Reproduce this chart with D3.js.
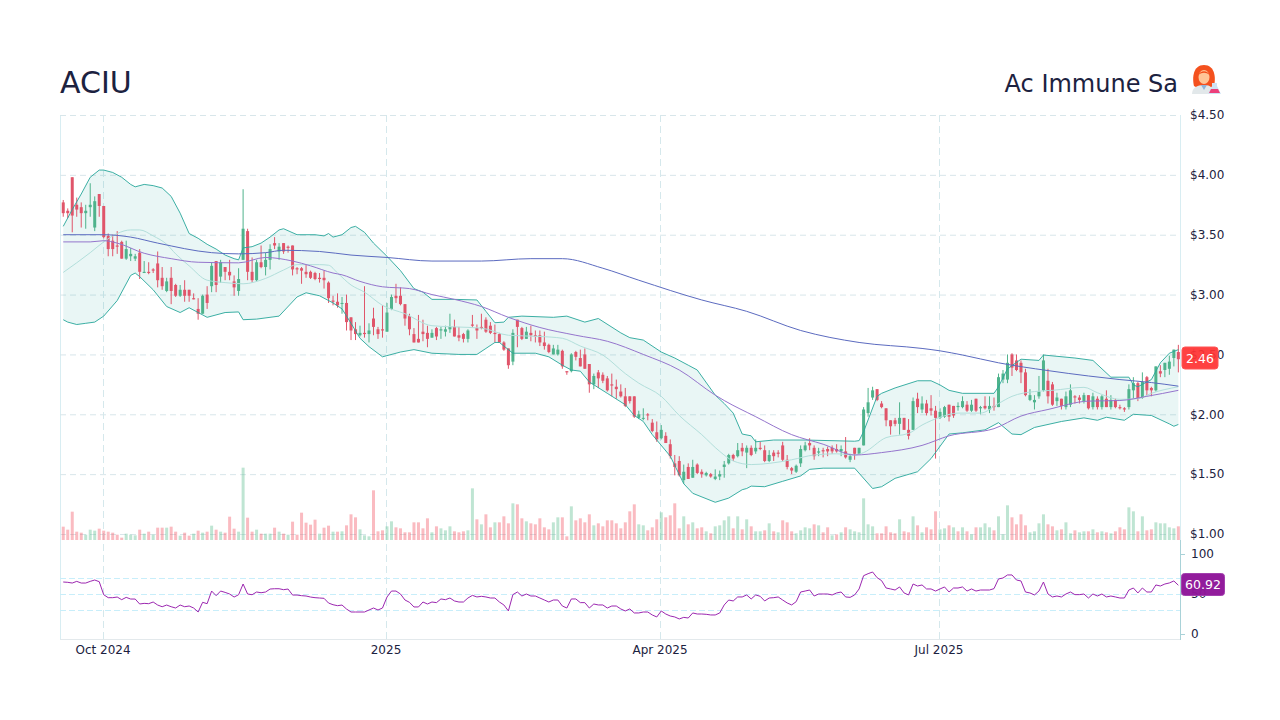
<!DOCTYPE html>
<html>
	<head>
		<title>ACIU</title>
		<meta charset="utf-8">
		<script type="text/javascript" src="https://d3js.org/d3.v7.min.js"></script>
		<style type="text/css">
			html, body{
				margin: 0;
				padding: 0;
				background: #fff;
			}
			svg{
				display: block;
			}
			text{
				font-family: "DejaVu Sans", sans-serif;
				fill: #1c2240;
			}
		</style>
	</head>

	<body>
		<script type="text/javascript">

		var ticker = 'ACIU';
		var company = 'Ac Immune Sa';

		var opens = [
			3.77,3.70,3.98,3.75,3.73,3.68,3.73,3.56,3.84,3.74,
			3.49,3.45,3.41,3.44,3.30,3.32,3.30,3.35,3.18,3.19,
			3.21,3.26,3.14,3.03,3.14,3.08,2.99,3.04,3.04,2.97,
			2.88,2.84,3.00,3.07,3.28,3.15,3.23,3.19,3.11,3.03,
			3.29,3.53,3.19,3.12,3.27,3.23,3.29,3.43,3.36,3.43,
			3.40,3.41,3.22,3.22,3.19,3.19,3.18,3.14,3.14,3.10,
			2.95,2.94,2.93,2.93,2.81,2.71,2.66,2.68,2.67,2.80,
			2.71,2.71,2.69,2.88,2.99,2.99,2.92,2.82,2.67,2.63,
			2.69,2.68,2.64,2.72,2.70,2.69,2.71,2.73,2.66,2.67,
			2.63,2.75,2.72,2.73,2.79,2.74,2.68,2.67,2.60,2.55,
			2.44,2.79,2.72,2.63,2.68,2.66,2.66,2.60,2.58,2.50,
			2.50,2.53,2.36,2.36,2.52,2.47,2.50,2.42,2.25,2.35,
			2.33,2.30,2.25,2.23,2.19,2.15,2.15,2.15,1.97,1.97,
			2.00,1.93,1.85,1.80,1.82,1.75,1.59,1.61,1.45,1.56,
			1.47,1.58,1.52,1.49,1.50,1.46,1.48,1.56,1.59,1.66,
			1.65,1.72,1.68,1.72,1.69,1.72,1.70,1.61,1.68,1.68,
			1.74,1.62,1.55,1.52,1.59,1.70,1.76,1.72,1.68,1.70,
			1.71,1.72,1.71,1.69,1.69,1.62,1.72,1.67,1.74,2.01,
			2.14,2.21,2.09,2.05,1.95,1.95,1.92,1.97,1.87,1.87,
			2.13,2.04,2.09,2.05,2.03,1.97,1.98,2.08,2.07,2.06,
			2.06,2.08,2.03,2.13,2.05,2.07,2.04,2.07,2.06,2.29,
			2.29,2.50,2.45,2.43,2.35,2.12,2.10,2.15,2.20,2.28,
			2.25,2.11,2.13,2.06,2.08,2.15,2.14,2.11,2.16,2.06,
			2.13,2.06,2.13,2.06,2.12,2.06,2.05,2.06,2.20,2.26,
			2.14,2.31,2.22,2.20,2.36,2.37,2.38,2.47,2.52
		];
		var highs = [
			3.79,3.72,3.98,3.81,3.77,3.75,3.93,3.82,3.84,3.74,
			3.51,3.50,3.53,3.45,3.45,3.39,3.34,3.38,3.28,3.27,
			3.22,3.36,3.23,3.14,3.23,3.09,3.08,3.12,3.04,3.01,
			2.97,3.00,3.07,3.27,3.28,3.29,3.23,3.29,3.16,3.22,
			3.88,3.55,3.31,3.29,3.41,3.35,3.42,3.48,3.43,3.43,
			3.41,3.41,3.23,3.23,3.25,3.20,3.19,3.18,3.20,3.11,
			2.99,3.01,2.98,3.00,2.81,2.77,2.74,3.07,2.76,2.89,
			2.73,2.91,2.93,3.00,3.09,3.06,2.92,2.84,2.72,2.83,
			2.79,2.74,2.71,2.73,2.73,2.74,2.84,2.79,2.73,2.68,
			2.71,2.83,2.75,2.84,2.81,2.77,2.75,2.68,2.61,2.55,
			2.71,2.79,2.73,2.73,2.74,2.70,2.70,2.69,2.59,2.58,
			2.58,2.54,2.36,2.51,2.53,2.54,2.55,2.42,2.34,2.37,
			2.35,2.32,2.34,2.29,2.25,2.22,2.15,2.15,2.03,2.05,
			2.01,1.96,1.94,1.91,1.85,1.79,1.66,1.65,1.58,1.59,
			1.62,1.59,1.54,1.52,1.51,1.54,1.53,1.61,1.67,1.67,
			1.76,1.76,1.74,1.74,1.79,1.77,1.74,1.70,1.70,1.70,
			1.77,1.66,1.56,1.58,1.74,1.77,1.80,1.74,1.72,1.72,
			1.73,1.74,1.75,1.74,1.81,1.67,1.72,1.72,2.06,2.22,
			2.23,2.21,2.11,2.05,1.95,1.97,2.10,1.97,1.96,2.14,
			2.18,2.15,2.12,2.16,2.07,2.05,2.07,2.08,2.07,2.10,
			2.15,2.11,2.12,2.13,2.07,2.15,2.15,2.14,2.34,2.37,
			2.50,2.51,2.50,2.45,2.38,2.21,2.16,2.32,2.50,2.38,
			2.27,2.18,2.13,2.19,2.25,2.16,2.16,2.18,2.16,2.18,
			2.15,2.16,2.20,2.16,2.13,2.08,2.06,2.25,2.31,2.27,
			2.35,2.32,2.23,2.40,2.41,2.43,2.49,2.54,2.58
		];
		var lows = [
			3.65,3.64,3.52,3.65,3.56,3.55,3.65,3.53,3.65,3.47,
			3.32,3.32,3.34,3.30,3.29,3.28,3.28,3.13,3.18,3.17,
			3.18,3.06,3.04,3.02,2.92,2.98,2.98,2.94,2.94,2.96,
			2.79,2.84,2.88,3.02,3.02,3.10,3.12,3.12,2.99,2.99,
			3.29,3.12,3.10,3.11,3.22,3.16,3.21,3.38,3.29,3.34,
			3.35,3.16,3.17,3.09,3.14,3.13,3.12,3.10,3.05,2.93,
			2.91,2.89,2.84,2.70,2.62,2.62,2.65,2.64,2.60,2.66,
			2.63,2.64,2.69,2.87,2.93,2.91,2.74,2.66,2.60,2.60,
			2.61,2.56,2.64,2.62,2.63,2.65,2.68,2.65,2.61,2.60,
			2.60,2.73,2.63,2.71,2.68,2.67,2.60,2.60,2.53,2.38,
			2.41,2.56,2.62,2.63,2.61,2.60,2.57,2.54,2.51,2.50,
			2.49,2.38,2.33,2.35,2.45,2.40,2.38,2.18,2.21,2.22,
			2.26,2.19,2.15,2.13,2.14,2.06,2.09,1.97,1.96,1.95,
			1.95,1.85,1.77,1.79,1.76,1.63,1.49,1.48,1.42,1.46,
			1.47,1.50,1.47,1.48,1.47,1.45,1.45,1.47,1.58,1.61,
			1.64,1.65,1.55,1.65,1.67,1.70,1.60,1.60,1.61,1.64,
			1.61,1.54,1.50,1.51,1.56,1.69,1.70,1.62,1.65,1.64,
			1.65,1.67,1.68,1.65,1.63,1.60,1.62,1.67,1.74,1.98,
			2.12,2.11,2.05,1.90,1.83,1.90,1.83,1.87,1.79,1.87,
			2.01,2.01,1.99,1.99,1.63,1.96,1.97,1.94,1.97,2.03,
			2.05,2.02,2.02,2.02,2.00,2.04,2.01,2.03,2.06,2.26,
			2.26,2.32,2.36,2.26,2.15,2.11,2.04,2.13,2.19,2.09,
			2.07,2.07,2.04,2.04,2.06,2.09,2.09,2.09,2.04,2.04,
			2.04,2.04,2.06,2.04,2.05,2.04,2.02,2.04,2.13,2.11,
			2.13,2.16,2.15,2.19,2.31,2.31,2.33,2.40,2.35
		];
		var closes = [
			3.68,3.68,3.66,3.71,3.68,3.70,3.75,3.78,3.74,3.48,
			3.38,3.38,3.40,3.30,3.38,3.34,3.32,3.19,3.19,3.18,
			3.20,3.12,3.07,3.11,3.03,2.99,3.04,2.99,2.99,2.96,
			2.84,2.99,2.93,3.24,3.08,3.27,3.19,3.16,3.06,3.13,
			3.55,3.19,3.12,3.27,3.23,3.29,3.38,3.41,3.40,3.36,
			3.39,3.21,3.21,3.20,3.17,3.14,3.13,3.13,3.12,2.97,
			2.94,2.91,2.93,2.77,2.70,2.67,2.68,2.67,2.70,2.73,
			2.67,2.70,2.85,2.98,2.97,2.92,2.80,2.71,2.60,2.60,
			2.67,2.63,2.68,2.65,2.71,2.71,2.73,2.65,2.64,2.63,
			2.70,2.74,2.70,2.72,2.69,2.68,2.67,2.60,2.54,2.41,
			2.68,2.73,2.63,2.69,2.66,2.65,2.60,2.57,2.52,2.55,
			2.54,2.40,2.35,2.50,2.48,2.40,2.38,2.25,2.32,2.30,
			2.28,2.20,2.24,2.21,2.15,2.07,2.11,1.98,2.00,1.97,
			1.99,1.86,1.79,1.87,1.76,1.65,1.56,1.49,1.52,1.46,
			1.56,1.51,1.50,1.51,1.48,1.48,1.50,1.58,1.66,1.63,
			1.70,1.69,1.72,1.66,1.72,1.71,1.61,1.66,1.65,1.67,
			1.62,1.56,1.53,1.57,1.71,1.74,1.74,1.65,1.69,1.69,
			1.69,1.69,1.69,1.71,1.64,1.65,1.67,1.72,2.04,2.10,
			2.20,2.12,2.06,1.95,1.90,1.92,1.97,1.87,1.82,2.11,
			2.06,2.09,2.01,2.03,1.97,2.02,2.06,1.98,1.99,2.07,
			2.11,2.03,2.08,2.03,2.06,2.05,2.07,2.06,2.31,2.34,
			2.43,2.39,2.37,2.35,2.16,2.16,2.12,2.19,2.45,2.15,
			2.08,2.14,2.07,2.15,2.20,2.14,2.12,2.16,2.05,2.15,
			2.06,2.15,2.06,2.12,2.06,2.05,2.04,2.21,2.26,2.13,
			2.27,2.20,2.20,2.40,2.34,2.43,2.44,2.54,2.46
		];
		var volumes = [
			40,31,85,25,22,16,31,28,34,28,
			25,22,16,7,19,16,14,31,19,25,
			16,37,37,37,40,25,13,22,13,19,
			28,22,25,43,31,25,22,70,34,25,
			217,67,25,31,19,19,19,37,25,19,
			16,55,16,82,52,46,61,19,37,43,
			25,25,26,44,77,68,32,14,11,149,
			26,29,41,56,38,35,23,23,53,53,
			35,65,23,41,35,29,41,26,23,26,
			29,155,62,47,77,38,53,53,71,50,
			110,107,65,56,50,47,65,38,32,53,
			68,68,11,101,59,65,53,77,44,50,
			41,59,59,50,35,53,86,107,47,44,
			29,38,62,83,68,74,110,35,71,47,
			53,35,38,26,20,41,44,59,71,35,
			71,32,62,41,26,26,29,50,26,23,
			59,53,26,20,29,38,35,47,44,23,
			38,14,17,23,38,32,26,23,125,47,
			41,20,20,41,23,20,62,26,23,71,
			44,23,38,32,86,32,35,44,38,26,
			38,26,17,38,38,50,38,29,71,17,
			104,68,47,77,44,23,26,50,77,47,
			41,29,32,53,20,29,23,26,26,32,
			23,26,23,20,26,38,32,98,86,26,
			71,29,32,53,50,50,38,35,41
		];
		// bars whose volume colour is not the colour of their candle
		var volumeFlip = [20,29,50,57,60,67,91,93,96,155,159,166,171,176,198,199,205,226,244];
		var rsi = [
			65.0,64.6,63.7,65.8,63.7,63.7,65.8,67.5,65.4,49.1,
			45.4,45.4,46.2,42.9,45.8,43.7,43.7,37.5,38.3,37.9,
			40,36.2,34.1,36.2,34.1,32.5,36.2,34.1,35,32.5,
			27.5,39.6,37.9,53.7,47.9,53.7,52,50,46.2,49.1,
			62.5,50,49.1,52.5,51.6,52.5,56.2,56.6,56.6,55.4,
			56.2,48.7,48.7,47.9,47.5,46.2,45.4,45,44.6,38.7,
			36.6,35.4,36.2,31.2,27.5,27.5,27.5,27.5,30,32.5,
			30,32.5,46.2,53.7,53.7,50,42.5,39.6,33.8,33.8,
			40,37.5,40,39.2,43.8,42.9,45,41.3,40,40,
			45,48.3,46.3,47.1,46.3,45,45,40,36.3,28.8,
			49.2,52.5,47.5,50,47.5,47.5,45,42.5,40,42.5,
			42.5,35,32.5,43.8,43.8,39.2,39.2,32.5,37.5,36.3,
			36.3,32.5,35,35,31.3,28.8,31.3,26.3,26.3,27.5,
			27.5,23.8,21.3,28.8,25,22.5,21.3,18.8,20.8,20,
			26.3,25,25,24.6,23.8,23.8,26.3,36.3,42.5,41.3,
			46.3,46.3,48.8,43.8,48.8,47.1,41.3,45,45.4,46.3,
			42.5,38.8,36.3,40.4,52.5,53.7,55,47.5,50,50,
			50,48.8,51.3,52.5,46.3,45.8,48.8,56.3,72.9,75.4,
			77.5,70.4,66.7,57.5,56.3,55,58.8,51.3,48.8,62.5,
			60,61.3,56.3,56.3,53.7,56.3,58.8,52.5,57.5,57.5,
			58.8,53.7,56.3,53.7,55,55,55,56.7,68.8,70,
			73.8,73.8,67.5,66.3,52.5,51.3,48.8,53.7,65,50,
			46.3,47.5,46.3,50,52.5,49.2,49.2,50,45,50,
			47.5,50,46.3,47.5,46.3,45,45,55,57.5,51.3,
			57.5,52.5,52.5,61.3,60,62.5,63.8,66.3,60.92
		];

		// the smooth overlays were read at their visible bends: [bar index, price]
		var bbUpper = [
			[0,3.57],[2,3.71],[4,3.84],[6,3.98],[8,4.04],[9,4.04],[11,4.02],[13,3.98],[15,3.92],[16,3.90],
			[18,3.92],[20,3.91],[22,3.89],[24,3.82],[26,3.68],[28,3.51],[30,3.47],[32,3.42],[34,3.38],[36,3.33],
			[38,3.30],[39,3.29],[40,3.39],[42,3.40],[44,3.43],[46,3.48],[48,3.54],[49,3.55],[52,3.50],[56,3.50],
			[58,3.49],[59,3.51],[60,3.48],[62,3.50],[64,3.56],[65,3.57],[67,3.52],[69,3.43],[72,3.32],[75,3.20],
			[78,3.05],[80,3.02],[82,2.96],[87,2.96],[92,2.955],[94,2.86],[96,2.765],[98,2.77],[99,2.81],[102,2.82],
			[109,2.81],[112,2.82],[116,2.77],[119,2.80],[124,2.68],[126,2.64],[129,2.62],[133,2.52],[136,2.47],[139,2.41],
			[141,2.37],[145,2.16],[147,2.09],[149,2.01],[151,1.835],[153,1.82],[154,1.77],[158,1.785],[165,1.785],[176,1.775],
			[177,1.78],[178,1.855],[181,2.15],[182,2.175],[185,2.22],[190,2.28],[193,2.28],[195,2.245],[197,2.20],[200,2.175],
			[207,2.175],[208,2.23],[210,2.38],[213,2.46],[217,2.45],[218,2.495],[225,2.47],[229,2.45],[233,2.31],[237,2.31],
			[238,2.245],[239,2.23],[242,2.29],[244,2.43],[246,2.51],[248,2.54]
		];
		var bbMiddle = [
			[0,3.185],[6,3.35],[9,3.44],[12,3.51],[15,3.54],[17,3.54],[20,3.49],[23,3.42],[25,3.34],[28,3.24],
			[32,3.12],[36,3.10],[40,3.09],[45,3.135],[49,3.205],[52,3.25],[57,3.25],[59,3.245],[61,3.18],[64,3.08],
			[67,3.02],[71,2.91],[76,2.84],[82,2.74],[87,2.73],[93,2.72],[99,2.66],[106,2.65],[111,2.635],[115,2.57],
			[120,2.495],[125,2.34],[128,2.26],[133,2.15],[137,1.99],[142,1.83],[146,1.69],[149,1.61],[153,1.58],[157,1.59],
			[162,1.62],[167,1.66],[172,1.67],[176,1.66],[178,1.68],[183,1.805],[188,1.84],[191,1.91],[195,1.975],[199,2.01],
			[204,2.01],[208,2.09],[211,2.15],[216,2.19],[220,2.20],[227,2.225],[230,2.18],[235,2.125],[239,2.13],[242,2.175],
			[248,2.23]
		];
		var bbLower = [
			[0,2.79],[1,2.77],[3,2.75],[5,2.76],[7,2.77],[9,2.82],[12,2.95],[15,3.16],[16,3.18],[17,3.15],
			[20,3.04],[23,2.90],[26,2.85],[28,2.89],[32,2.81],[36,2.85],[39,2.855],[40,2.79],[43,2.795],[48,2.82],
			[52,2.98],[54,3.015],[57,2.99],[60,2.93],[62,2.88],[64,2.76],[66,2.635],[68,2.565],[71,2.48],[75,2.52],
			[78,2.54],[82,2.51],[88,2.50],[92,2.50],[94,2.55],[96,2.60],[97,2.60],[100,2.51],[105,2.51],[108,2.48],
			[111,2.41],[113,2.37],[115,2.36],[117,2.27],[121,2.175],[125,2.08],[127,1.99],[129,1.94],[131,1.83],[135,1.65],
			[138,1.42],[140,1.34],[145,1.265],[148,1.30],[151,1.37],[152,1.38],[153,1.40],[156,1.395],[160,1.44],[164,1.485],
			[166,1.54],[169,1.55],[176,1.55],[180,1.38],[182,1.395],[185,1.465],[190,1.52],[193,1.63],[197,1.835],[200,1.845],
			[205,1.87],[208,1.93],[211,1.835],[213,1.83],[216,1.89],[222,1.94],[227,1.97],[230,1.95],[232,1.975],[236,1.95],
			[238,2.00],[242,1.99],[246,1.92],[247,1.90],[248,1.915]
		];
		var smaLong = [
			[0,3.50],[9,3.50],[15,3.48],[21,3.43],[33,3.35],[39,3.34],[45,3.35],[49,3.37],[57,3.36],[64,3.33],
			[72,3.31],[82,3.28],[93,3.28],[104,3.30],[111,3.30],[120,3.22],[128,3.12],[142,2.955],[152,2.86],[164,2.70],
			[177,2.60],[191,2.55],[195,2.53],[200,2.495],[208,2.43],[219,2.365],[228,2.32],[235,2.29],[242,2.265],[248,2.235]
		];
		var smaShort = [
			[0,3.44],[6,3.44],[9,3.45],[12,3.43],[18,3.345],[24,3.30],[30,3.27],[39,3.265],[45,3.31],[51,3.28],
			[55,3.24],[60,3.18],[62,3.165],[66,3.11],[71,3.065],[77,3.05],[82,3.00],[87,2.96],[93,2.90],[99,2.81],
			[106,2.725],[114,2.66],[121,2.61],[129,2.50],[137,2.37],[145,2.16],[147,2.115],[154,1.98],[162,1.83],[169,1.75],
			[176,1.66],[182,1.68],[191,1.74],[197,1.82],[207,1.88],[213,1.985],[219,2.04],[228,2.11],[235,2.115],[241,2.15],
			[248,2.20]
		];

		var priceTicks = [1, 1.5, 2, 2.5, 3, 3.5, 4, 4.5];
		var rsiTicks = [0, 50, 100];
		var rsiGuides = [30, 50, 70];
		var monthBars = [9, 72, 133, 195];
		var monthLabels = ['Oct 2024', '2025', 'Apr 2025', 'Jul 2025'];

		var width = 1280, height = 720;
		// named plot* because a global called top cannot be assigned in a browser
		var plotLeft = 60, plotRight = 1180, plotTop = 115, paneBreak = 540, plotBottom = 640;
		var upColor = '#4fb38c', downColor = '#e0556a';

		var svg = d3.select('body').append('svg')
			.attr('width', width)
			.attr('height', height);

		var bars = d3.range(closes.length);
		var x = d3.scaleBand().domain(bars).range([61, 1180.6]);
		var xMid = function(i) { return x(i) + x.bandwidth() / 2; };
		var monthX = function(i) { return Math.floor(xMid(i) - 0.5) + 0.5; };
		var y = d3.scaleLinear().domain([1, 4.5]).range([534, 115]);
		var yVolume = d3.scaleLinear().domain([0, 300]).range([paneBreak, 440]);
		var yRsi = d3.scaleLinear().domain([0, 100]).range([634, 554]);

		function isUp(i) { return closes[i] >= opens[i]; }

		// titles
		svg.append('text').attr('x', plotLeft).attr('y', 93)
			.style('font-size', '30px').text(ticker);
		svg.append('text').attr('x', 1178).attr('y', 92)
			.attr('text-anchor', 'end').style('font-size', '24px').text(company);

		// scientist icon next to the company name
		var icon = svg.append('g').attr('transform', 'translate(1204,76)');
		icon.append('path').attr('d', 'M-10,10 C-12,2 -11,-11 0,-11 C11,-11 12,2 10,10 C6,13 -6,13 -10,10 Z').attr('fill', '#f4511e');
		icon.append('path').attr('d', 'M-12,18 C-12,12 -7,9 0,9 C7,9 9,12 9,18 Z').attr('fill', '#e2e8ea');
		icon.append('path').attr('d', 'M-3,9 L0,14 L3,9 Z').attr('fill', '#8fb4d8');
		icon.append('ellipse').attr('cx', 0).attr('cy', 1).attr('rx', 5.5).attr('ry', 7).attr('fill', '#ffc596');
		icon.append('path').attr('d', 'M-5.5,-1 C-4,-6 4,-6 5.5,-1 C2,-4 -2,-4 -5.5,-1 Z').attr('fill', '#f4511e');
		icon.append('path').attr('d', 'M8,7 L13,7 L13,10 L17,18 L4,18 L8,10 Z').attr('fill', '#cfe3f5');
		icon.append('path').attr('d', 'M7,13 L14,13 L16,17 L5,17 Z').attr('fill', '#ec407a');

		// frame
		var frame = svg.append('g').attr('fill', 'none');
		frame.append('line').attr('x1', plotLeft + 0.5).attr('x2', plotLeft + 0.5).attr('y1', plotTop).attr('y2', plotBottom).attr('stroke', '#d8edf2');
		frame.append('line').attr('x1', plotRight + 0.5).attr('x2', plotRight + 0.5).attr('y1', plotTop).attr('y2', paneBreak).attr('stroke', '#d8edf2');
		frame.append('line').attr('x1', plotRight + 0.5).attr('x2', plotRight + 0.5).attr('y1', paneBreak).attr('y2', plotBottom).attr('stroke', '#a9d2d8');
		frame.append('line').attr('x1', plotLeft).attr('x2', plotRight).attr('y1', plotBottom - 0.5).attr('y2', plotBottom - 0.5).attr('stroke', '#e3e9ec');

		// grid
		svg.append('g').selectAll('line').data(priceTicks).enter().append('line')
			.attr('x1', plotLeft).attr('x2', plotRight)
			.attr('y1', function(d) { return y(d) + 0.5; })
			.attr('y2', function(d) { return y(d) + 0.5; })
			.attr('stroke', '#d8e6ea').attr('stroke-dasharray', '6,4');
		svg.append('g').selectAll('line').data(rsiGuides).enter().append('line')
			.attr('x1', plotLeft).attr('x2', plotRight)
			.attr('y1', function(d) { return yRsi(d) + 0.5; })
			.attr('y2', function(d) { return yRsi(d) + 0.5; })
			.attr('stroke', '#c8eefa').attr('stroke-dasharray', '6,3');
		svg.append('g').selectAll('line').data(monthBars).enter().append('line')
			.attr('x1', monthX)
			.attr('x2', monthX)
			.attr('y1', plotTop).attr('y2', plotBottom)
			.attr('stroke', '#d5e8ec').attr('stroke-dasharray', '7,4');

		// volume
		svg.append('g').selectAll('rect').data(bars).enter().append('rect')
			.attr('x', function(i) { return xMid(i) - 1.5; })
			.attr('width', 3)
			.attr('y', function(i) { return yVolume(volumes[i]); })
			.attr('height', function(i) { return paneBreak - yVolume(volumes[i]); })
			.attr('fill', function(i) {
				var up = isUp(i);
				if (volumeFlip.indexOf(i) >= 0) up = !up;
				return up ? '#5fbe91' : '#f25564';
			})
			.attr('fill-opacity', 0.4);

		// bollinger band fill
		var bandLine = d3.line()
			.x(function(d) { return xMid(d[0]); })
			.y(function(d) { return y(d[1]); });
		var smoothLine = d3.line()
			.x(function(d) { return xMid(d[0]); })
			.y(function(d) { return y(d[1]); })
			.curve(d3.curveMonotoneX);
		svg.append('path')
			.attr('d', bandLine(bbUpper.concat(bbLower.slice().reverse())) + 'Z')
			.attr('fill', '#26a69a').attr('fill-opacity', 0.1);

		// candles
		var candle = svg.append('g').selectAll('g').data(bars).enter().append('g')
			.attr('fill', function(i) { return isUp(i) ? upColor : downColor; })
			.attr('stroke', function(i) { return isUp(i) ? upColor : downColor; });
		candle.append('line')
			.attr('x1', xMid).attr('x2', xMid)
			.attr('y1', function(i) { return y(highs[i]); })
			.attr('y2', function(i) { return y(lows[i]); })
			.attr('stroke-width', 1);
		candle.append('rect')
			.attr('x', function(i) { return xMid(i) - 1.5; })
			.attr('width', 3)
			.attr('y', function(i) { return y(Math.max(opens[i], closes[i])); })
			.attr('height', function(i) { return Math.max(1, Math.abs(y(opens[i]) - y(closes[i]))); })
			.attr('stroke', 'none');

		// overlay lines
		function overlay(gen, data, color, sw) {
			svg.append('path').attr('d', gen(data))
				.attr('fill', 'none').attr('stroke', color).attr('stroke-width', sw);
		}
		overlay(smoothLine, bbMiddle, '#b2dfdb', 1);
		overlay(bandLine, bbUpper, '#26a69a', 0.9);
		overlay(bandLine, bbLower, '#26a69a', 0.9);
		overlay(smoothLine, smaLong, '#5c6bc0', 1);
		overlay(smoothLine, smaShort, '#9575cd', 1);

		// rsi
		var rsiLine = d3.line()
			.x(function(d, i) { return xMid(i); })
			.y(function(d) { return yRsi(d); });
		svg.append('path').attr('d', rsiLine(rsi))
			.attr('fill', 'none').attr('stroke', '#9c27b0').attr('stroke-width', 1);

		// axes
		function tidy(g) {
			g.select('.domain').remove();
			g.selectAll('text').style('font-size', '12px').style('font-family', '"DejaVu Sans", sans-serif').attr('fill', '#1c2240');
		}
		svg.append('g').attr('transform', 'translate(' + plotRight + ',0)')
			.call(d3.axisRight(y).tickValues(priceTicks).tickSize(0).tickPadding(10)
				.tickFormat(function(d) { return '$' + d.toFixed(2); }))
			.call(tidy);
		svg.append('g').attr('transform', 'translate(' + plotRight + ',0)')
			.call(d3.axisRight(yRsi).tickValues(rsiTicks).tickSize(5).tickPadding(6))
			.call(tidy)
			.selectAll('line').attr('stroke', '#a9d2d8');
		svg.append('g').attr('transform', 'translate(-1,' + plotBottom + ')')
			.call(d3.axisBottom(d3.scaleOrdinal().domain(monthBars).range(monthBars.map(monthX)))
				.tickValues(monthBars).tickSize(0).tickPadding(5)
				.tickFormat(function(d, i) { return monthLabels[i]; }))
			.call(tidy);

		// last value tags
		function tag(tx, ty, w, h, fill, stroke, opacity, label) {
			svg.append('rect').attr('x', tx).attr('y', ty).attr('width', w).attr('height', h)
				.attr('rx', 3).attr('fill', fill).attr('fill-opacity', opacity).attr('stroke', stroke);
			svg.append('text').attr('x', tx + w / 2).attr('y', ty + h / 2 + 4.5)
				.attr('text-anchor', 'middle').style('font-size', '12.5px').style('fill', '#fff').text(label);
		}
		tag(1182, 347, 36, 22, '#ff3333', '#ff5555', 0.93, closes[closes.length - 1].toFixed(2));
		tag(1181.5, 573.5, 43, 22, '#8e1599', '#a23fae', 0.97, rsi[rsi.length - 1].toFixed(2));

		</script>
	</body>
</html>
